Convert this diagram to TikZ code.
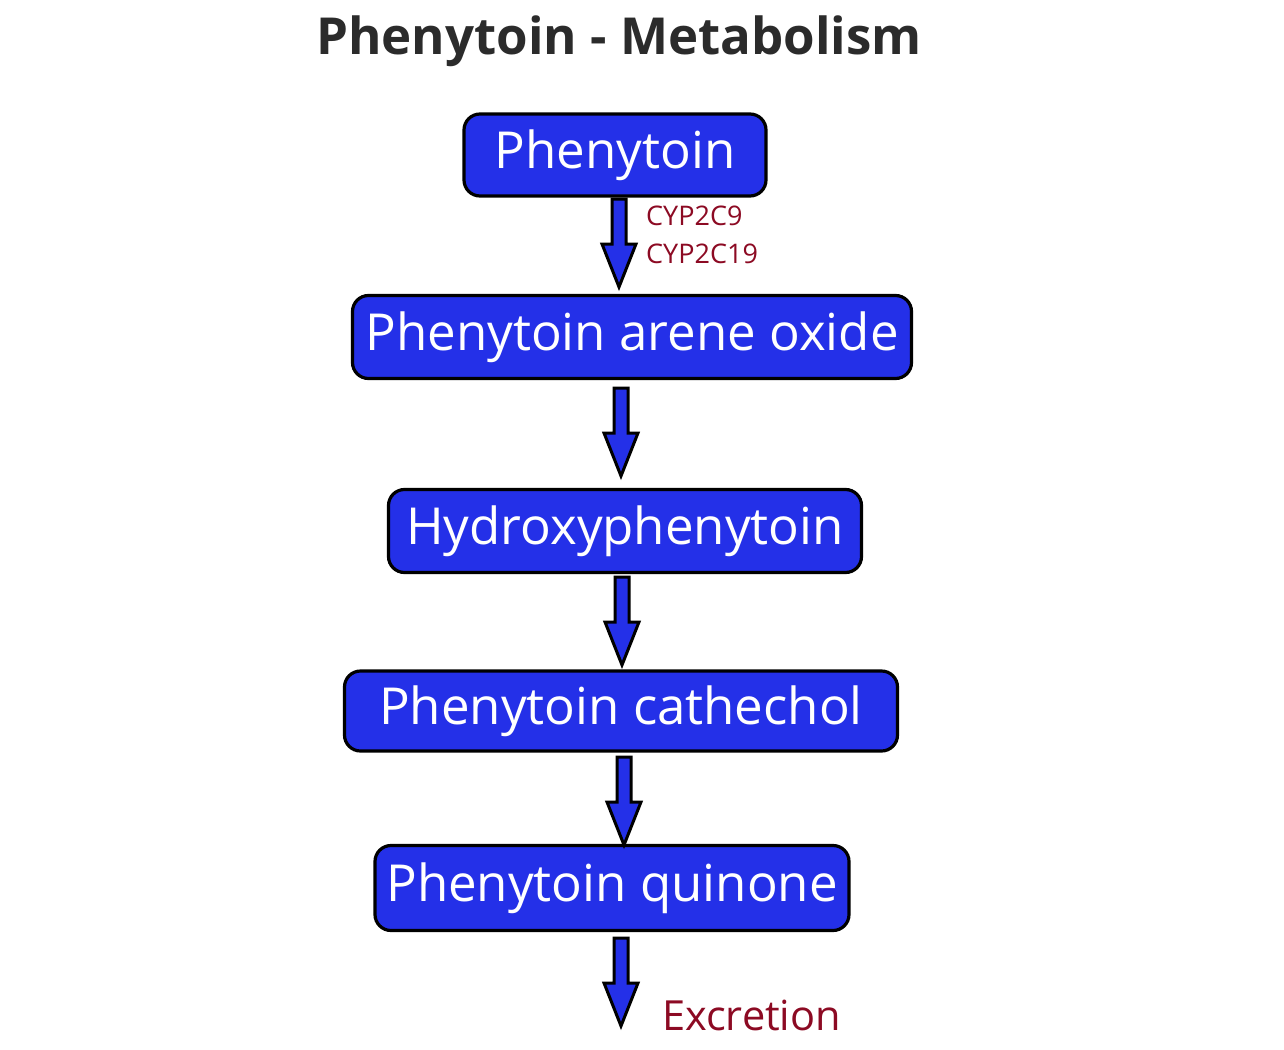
\documentclass[tikz,border=0pt]{standalone}
\usepackage{fontspec}
\setmainfont{Open Sans}
\definecolor{boxblue}{RGB}{36,48,232}
\definecolor{enzred}{RGB}{140,10,35}
\definecolor{titlegray}{RGB}{43,43,43}
\begin{document}
\begin{tikzpicture}[x=1pt,y=-1pt,
  stepbox/.style={draw=black,line width=3.2pt,fill=boxblue,rounded corners=16pt,
    text=white,font=\fontsize{51}{55}\selectfont,inner sep=0pt,align=center},
  enzlabel/.style={text=enzred,font=\fontsize{27}{30}\selectfont,anchor=west,inner sep=0pt},
  down arrow/.pic={\draw[draw=black,line width=3pt,fill=boxblue,line join=miter]
     (-7,0) -- (-7,45) -- (-17,45) -- (0,88) -- (17,45) -- (7,45) -- (7,0) -- cycle;}]
\useasboundingbox (0,0) rectangle (1284,1049);
\node[text=titlegray,font=\bfseries\fontsize{51}{55}\selectfont] (title) at (619,41) {Phenytoin - Metabolism};
\node[stepbox,minimum width=302pt,minimum height=82pt] (p) at (615,155) {Phenytoin};
\node[stepbox,minimum width=559pt,minimum height=83pt] (ao) at (632,337) {Phenytoin arene oxide};
\node[stepbox,minimum width=473pt,minimum height=83pt] (hp) at (625,531) {Hydroxyphenytoin};
\node[stepbox,minimum width=553pt,minimum height=80pt] (pc) at (621,711) {Phenytoin cathechol};
\node[stepbox,minimum width=474pt,minimum height=85pt] (pq) at (612,888) {Phenytoin quinone};
\pic at (619,199) {down arrow};
\pic at (621,388) {down arrow};
\pic at (622,577) {down arrow};
\pic at (624,757) {down arrow};
\pic at (621,938) {down arrow};
\node[enzlabel] (e1) at (646,216) {CYP2C9};
\node[enzlabel] (e2) at (646,254) {CYP2C19};
\node[enzlabel,font=\fontsize{41.5}{45}\selectfont] (ex) at (662,1015) {Excretion};
\end{tikzpicture}
\end{document}
